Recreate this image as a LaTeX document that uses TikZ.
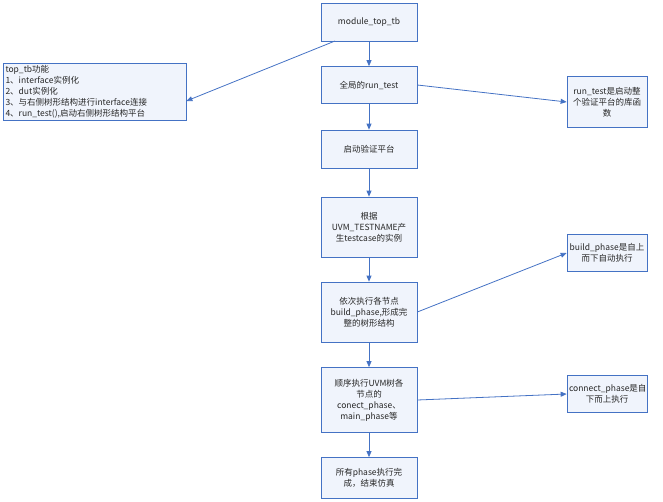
\documentclass[tikz,border=0pt]{standalone}
\usepackage{fontspec}
\setmainfont{Noto Sans CJK SC}
\usetikzlibrary{arrows.meta}
\definecolor{bl}{RGB}{68,114,196}
\definecolor{bf}{RGB}{240,244,252}
\begin{document}
\begin{tikzpicture}[x=1pt,y=-1pt,
  box/.style={draw=bl, fill=bf, line width=0.7pt, inner sep=2pt, align=center, font=\fontsize{8.5}{11}\selectfont, text=black!85},
  arr/.style={draw=bl, line width=0.8pt, -{Triangle[length=6pt,width=5pt]}}]
\useasboundingbox (0,0) rectangle (663,502);
\node[box, minimum width=96, minimum height=38] (n1) at (369,22) {module\_top\_tb};
\node[box, minimum width=96, minimum height=37] (n2) at (369,85) {全局的run\_test};
\node[box, minimum width=96, minimum height=38] (n3) at (369,149) {启动验证平台};
\node[box, text width=90, minimum width=96, minimum height=60] (n4) at (369,227) {根据\\UVM\_TESTNAME产\\生testcase的实例};
\node[box, text width=90, minimum width=96, minimum height=60] (n5) at (369,312) {依次执行各节点\\build\_phase,形成完\\整的树形结构};
\node[box, text width=90, minimum width=96, minimum height=65] (n6) at (369,400) {顺序执行UVM树各\\节点的\\conect\_phase、\\main\_phase等};
\node[box, text width=90, minimum width=96, minimum height=41] (n7) at (369,478) {所有phase执行完\\成，结束仿真};
\node[box, align=left, text width=178, minimum width=183, minimum height=52] (l) at (94.5,92) {top\_tb功能\\1、interface实例化\\2、dut实例化\\3、与右侧树形结构进行interface连接\\4、run\_test(),启动右侧树形结构平台};
\node[box, text width=76, minimum width=80, minimum height=51] (r1) at (607,102) {run\_test是启动整\\个验证平台的库函\\数};
\node[box, text width=76, minimum width=80, minimum height=37] (r2) at (607,253) {build\_phase是自上\\而下自动执行};
\node[box, text width=76, minimum width=80, minimum height=37] (r3) at (607,394) {connect\_phase是自\\下而上执行};
\draw[arr] (n1) -- (n2);
\draw[arr] (n2) -- (n3);
\draw[arr] (n3) -- (n4);
\draw[arr] (n4) -- (n5);
\draw[arr] (n5) -- (n6);
\draw[arr] (n6) -- (n7);
\draw[arr] (335,41) -- (l.east |- 0,101);
\draw[arr] (n2.east) -- (r1.west);
\draw[arr] (n5.east) -- (r2.west);
\draw[arr] (n6.east) -- (r3.west);
\end{tikzpicture}
\end{document}
